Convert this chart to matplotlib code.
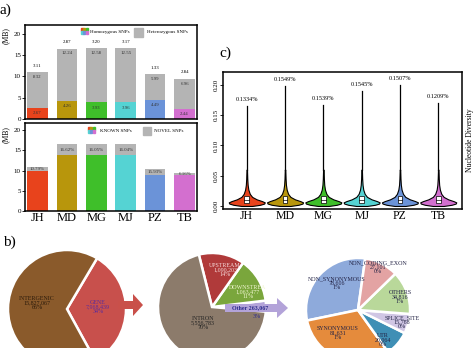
import numpy as np
import matplotlib.pyplot as plt
from matplotlib.patches import Rectangle, FancyArrow

plt.rcParams['font.family'] = ['Liberation Serif', 'DejaVu Serif']

W, H = 474, 348

# ---------------- data ----------------
groups = ['JH', 'MD', 'MG', 'MJ', 'PZ', 'TB']
colors = ['#e8431c', '#b8960c', '#3fbf2a', '#55d3d3', '#6b93d8', '#d36fcf']
gray = '#b4b4b4'

# a) upper: homozygous / heterozygous SNPs (MB)
homo = [2.67, 4.26, 3.93, 3.96, 4.49, 2.44]
hetero = [8.32, 12.24, 12.58, 12.55, 5.99, 6.96]
ratio_labels = ['3.11', '2.87', '3.20', '3.17', '1.33', '2.84']

# a) lower: known / novel SNPs (MB), novel share in %
novel_pct = [10.79, 16.62, 16.05, 16.04, 15.93, 6.16]

# c) nucleotide diversity violins
pi_max = [0.165, 0.198, 0.167, 0.190, 0.200, 0.170]
pi_labels = ['0.1334%', '0.1549%', '0.1539%', '0.1545%', '0.1507%', '0.1209%']
prof_level = [0.000, 0.002, 0.004, 0.006, 0.008, 0.011, 0.015, 0.020, 0.027, 0.035, 0.045, 0.060]
prof_width = [0.30, 0.75, 0.97, 1.00, 0.85, 0.55, 0.30, 0.17, 0.09, 0.05, 0.03, 0.015]
box_q1, box_med, box_q3 = 0.005, 0.010, 0.016

# b) pies
pie1_names = ['GENE\n7,968,439\n34%', 'INTERGENIC\n15,827,067\n66%']
pie1_values = [7968439, 15827067]
pie1_colors = ['#c8504c', '#8a5a2b']

pie2_names = ['Other 263,067', 'DOWNSTREA\n1,063,477\n11%', 'UPSTREAM\n1,090,203\n14%',
              'INTRON\n5,556,783\n70%']
pie2_values = [263067, 1063477, 1090203, 5556783]
pie2_colors = ['#b3a3d9', '#7aa63c', '#b03a3a', '#8c7b6b']

pie3_names = ['NON_SYNONYMOUS\n78,606\n1%', 'SYNONYMOUS\n81,631\n1%', 'UTR\n20,064\n0%',
              'SPLICE_SITE\n15,768\n0%', 'OTHERS\n34,816\n1%', 'NON_CODING_EXON\n27,101\n0%']
pie3_values = [78606, 81631, 20064, 15768, 34816, 27101]
pie3_colors = ['#8eaadb', '#e58b3c', '#3f8fb5', '#d0c6e4', '#b9d89a', '#e3a3a3']

# ---------------- figure ----------------
fig = plt.figure(figsize=(W / 100, H / 100), dpi=100)


def px_axes(x0, y0, x1, y1):
    return fig.add_axes([x0 / W, 1 - y1 / H, (x1 - x0) / W, (y1 - y0) / H])


def style_box(ax):
    for s in ax.spines.values():
        s.set_linewidth(1.1)
    ax.tick_params(axis='y', labelsize=5, length=2, width=0.6, pad=1)


x = np.arange(len(groups))
total = np.array(homo) + np.array(hetero)

# a) upper panel
ax1 = px_axes(25, 25, 197, 119)
ax1.bar(x, homo, 0.7, color=colors)
ax1.bar(x, hetero, 0.7, bottom=homo, color=gray)
for i in x:
    ax1.text(i, total[i] + 1.5, ratio_labels[i], ha='center', va='center', fontsize=3.5)
    ax1.text(i, total[i] - 1.1, f'{hetero[i]:.2f}', ha='center', va='center', fontsize=3.5, color='#333333')
    ax1.text(i, homo[i] - 1.3, f'{homo[i]:.2f}', ha='center', va='center', fontsize=3.5, color='#333333')
ax1.set_xlim(-0.42, 5.42)
ax1.set_ylim(0, 22)
ax1.set_xticks([])
ax1.set_yticks([0, 5, 10, 15, 20])
style_box(ax1)

# a) lower panel
novel = total * np.array(novel_pct) / 100
known = total - novel
ax2 = px_axes(25, 123, 197, 211)
ax2.bar(x, known, 0.7, color=colors)
ax2.bar(x, novel, 0.7, bottom=known, color=gray)
for i in x:
    ax2.text(i, total[i] - novel[i] / 2, f'{novel_pct[i]:.2f}%', ha='center', va='center',
             fontsize=3.5, color='#333333')
ax2.set_xlim(-0.42, 5.42)
ax2.set_ylim(0, 21.8)
ax2.set_xticks(x)
ax2.set_xticklabels(groups, fontsize=9)
ax2.tick_params(axis='x', length=0, pad=1)
ax2.set_yticks([0, 5, 10, 15, 20])
style_box(ax2)

# c) violins
ax3 = px_axes(223, 72, 462, 209)
lv = np.array(prof_level)
hw = np.array(prof_width) * 0.47
for i, c in enumerate(colors):
    ax3.fill_betweenx(lv, i - hw, i + hw, facecolor=c, edgecolor='black', linewidth=0.8, zorder=2)
    ax3.plot([i, i], [lv[-1], pi_max[i]], color='black', linewidth=0.9, zorder=2)
    ax3.add_patch(Rectangle((i - 0.06, box_q1), 0.12, box_q3 - box_q1, facecolor='white',
                            edgecolor='black', linewidth=0.5, zorder=3))
    ax3.plot([i - 0.06, i + 0.06], [box_med, box_med], color='black', linewidth=0.5, zorder=4)
    ax3.text(i, pi_max[i] + 0.011, pi_labels[i], ha='center', va='center', fontsize=4.5)
ax3.set_xlim(-0.62, 5.62)
ax3.set_ylim(-0.005, 0.2215)
ax3.set_xticks(x)
ax3.set_xticklabels(groups, fontsize=8.5)
ax3.tick_params(axis='x', length=0, pad=1)
ax3.set_yticks([0.0, 0.05, 0.10, 0.15, 0.20])
ax3.set_yticklabels(['0.00', '0.05', '0.10', '0.15', '0.20'], rotation=90, va='center')
style_box(ax3)
ax3.yaxis.set_label_position('right')
ax3.set_ylabel('Nucleotide Diversity', fontsize=5.5, labelpad=3)

# overlay in pixel coordinates (y measured from the bottom)
ov = fig.add_axes([0, 0, 1, 1])


def Y(y):
    return H - y


# legends of panel a
def color_icon(x0, y0, size):
    s = size / 3
    for k, c in enumerate(colors):
        r, col = divmod(k, 3)
        ov.add_patch(Rectangle((x0 + col * s, Y(y0 + (r + 1) * s * 1.5) + 0.5 * s), s * 0.8, s * 1.2,
                               color=c, zorder=5))


color_icon(81, 28, 7.5)
ov.text(90, Y(32), 'Homozygous SNPs', fontsize=3.6, va='center', ha='left')
ov.add_patch(Rectangle((134, Y(37)), 9, 9, color=gray, zorder=5))
ov.text(147, Y(32), 'Heterozygous SNPs', fontsize=3.6, va='center', ha='left')

color_icon(88, 127, 7.5)
ov.text(100, Y(131), 'KNOWN SNPs', fontsize=3.6, va='center', ha='left')
ov.add_patch(Rectangle((143, Y(135)), 8, 8, color=gray, zorder=5))
ov.text(154, Y(131), 'NOVEL SNPs', fontsize=3.6, va='center', ha='left')

fig.text(6 / W, 1 - 36 / H, '(MB)', rotation=90, fontsize=5.5, ha='center', va='center')
fig.text(6 / W, 1 - 135 / H, '(MB)', rotation=90, fontsize=5.5, ha='center', va='center')

# panel letters
ov.text(-1, Y(10), 'a)', fontsize=11, va='center', ha='left')
ov.text(3, Y(242), 'b)', fontsize=11, va='center', ha='left')
ov.text(219, Y(53), 'c)', fontsize=11, va='center', ha='left')

# b) pies
wp = dict(edgecolor='white', linewidth=1.8)
ov.pie(pie1_values, colors=pie1_colors, startangle=-61.2, counterclock=True,
       center=(67, Y(309)), radius=59, wedgeprops=wp)
ov.add_patch(FancyArrow(118, Y(305), 25, 0, width=8, head_width=22, head_length=10,
                        length_includes_head=True, color='#c9504a', linewidth=0))
ov.pie(pie2_values, colors=pie2_colors, startangle=-5, counterclock=True,
       center=(212, Y(307)), radius=54, explode=[0, 0, 0.05, 0], wedgeprops=wp)
ov.add_patch(FancyArrow(225, Y(308), 63, 0, width=8, head_width=20, head_length=11,
                        length_includes_head=True, color='#b3a3d9', linewidth=0, zorder=3))
ov.pie(pie3_values, colors=pie3_colors, startangle=82, counterclock=True,
       center=(358, Y(310)), radius=52, explode=[0.05] * 6, wedgeprops=wp)

lab_fs = 4.3
ov.text(37, Y(303), pie1_names[1], fontsize=lab_fs, ha='center', va='center', color='#2a1a0a', linespacing=0.9)
ov.text(98, Y(307), pie1_names[0], fontsize=lab_fs, ha='center', va='center', color='#5b2c9c', linespacing=0.9)
ov.text(225, Y(270), pie2_names[2], fontsize=lab_fs, ha='center', va='center', color='#f5d8d8', linespacing=0.9)
ov.text(248, Y(292), pie2_names[1], fontsize=lab_fs, ha='center', va='center', color='#f0f5d0', linespacing=0.9)
ov.text(203, Y(323), pie2_names[3], fontsize=lab_fs, ha='center', va='center', color='#222222', linespacing=0.9)
ov.text(250, Y(308), pie2_names[0], fontsize=lab_fs, ha='center', va='center', color='#2b2b8c',
        fontweight='bold', zorder=6)
ov.text(257, Y(316), '3%', fontsize=lab_fs, ha='center', va='center', color='#2b2b8c', zorder=6)
pie3_pos = [(337, 283), (338, 333), (383, 340), (402, 322), (400, 297), (378, 267)]
for name, (px, py) in zip(pie3_names, pie3_pos):
    ov.text(px, Y(py), name, fontsize=lab_fs, ha='center', va='center', color='#222244', linespacing=0.9)

ov.set_xlim(0, W)
ov.set_ylim(0, H)
ov.set_aspect('auto')
ov.axis('off')

fig.savefig('out.png', dpi=100)
